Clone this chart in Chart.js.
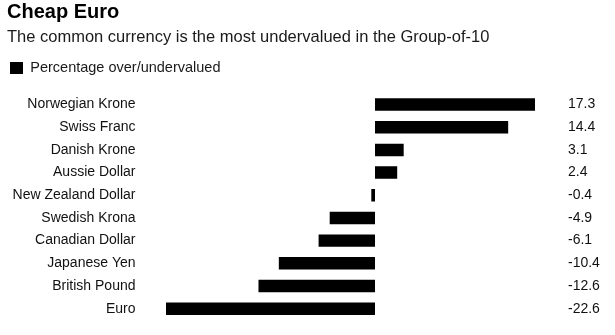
<!DOCTYPE html>
<html>
<head>
<meta charset="utf-8">
<script src="https://cdn.jsdelivr.net/npm/chart.js"></script>
<style>
  html, body { margin: 0; padding: 0; background: #fff; overflow: hidden; }
  canvas { display: block; }
</style>
</head>
<body>
<canvas id="c" width="615" height="335"></canvas>
<script>
// data
const currencies = ['Norwegian Krone','Swiss Franc','Danish Krone','Aussie Dollar','New Zealand Dollar',
                    'Swedish Krona','Canadian Dollar','Japanese Yen','British Pound','Euro'];
const overUnder = [17.3, 14.4, 3.1, 2.4, -0.4, -4.9, -6.1, -10.4, -12.6, -22.6];
const seriesName = 'Percentage over/undervalued';

const FONT = '"Liberation Sans", Arial, Helvetica, sans-serif';
Chart.defaults.font.family = FONT;
Chart.defaults.color = '#111';

// value labels in a column right of the bars
const valueLabels = {
    id: 'valueLabels',
    afterDatasetsDraw(chart){
        const ctx = chart.ctx;
        const meta = chart.getDatasetMeta(0);
        ctx.save();
        ctx.font = '14px ' + FONT;
        ctx.fillStyle = '#111';
        ctx.textAlign = 'left';
        ctx.textBaseline = 'middle';
        meta.data.forEach((bar, i)=>{
            ctx.fillText(overUnder[i].toFixed(1), 568, bar.y);
        });
        ctx.restore();
    }
};

new Chart(document.getElementById('c'), {
    type: 'bar',
    data: {
        labels: currencies,
        datasets: [{
            label: seriesName,
            data: overUnder,
            backgroundColor: '#000',
            borderWidth: 0,
            barPercentage: 0.55,
            categoryPercentage: 1
        }]
    },
    options: {
        indexAxis: 'y',
        responsive: false,
        animation: false,
        devicePixelRatio: 1,
        layout: { padding: { left: 7, right: 80, top: 0, bottom: 15 } },
        plugins: {
            title: {
                display: true, text: 'Cheap Euro', align: 'start', color: '#000',
                font: { size: 20, weight: 'bold' }, padding: { top: 0, bottom: 3.6 }
            },
            subtitle: {
                display: true, text: 'The common currency is the most undervalued in the Group-of-10',
                align: 'start', color: '#1a1a1a',
                font: { size: 16.5 }, padding: { top: 0, bottom: 10.3 }
            },
            legend: {
                display: true, align: 'start',
                labels: { boxWidth: 13, boxHeight: 12, padding: 3, color: '#1a1a1a', font: { size: 14.5 } }
            },
            tooltip: { enabled: false }
        },
        scales: {
            x: {
                position: 'top',
                min: -22.6, max: 17.3,
                grid: { display: false, drawTicks: false },
                border: { display: false },
                ticks: { display: false },
                afterFit(s){ s.height = 8; s.paddingLeft = 0; s.paddingRight = 0; }
            },
            y: {
                grid: { display: false, drawTicks: false },
                border: { display: false },
                ticks: { padding: 30.5, color: '#111', font: { size: 14 } },
                // fixed axis width, no extra label padding at the ends
                afterFit(s){ s.width = 159; s.paddingTop = 0; s.paddingBottom = 0; }
            }
        }
    },
    plugins: [valueLabels]
});
</script>
</body>
</html>
